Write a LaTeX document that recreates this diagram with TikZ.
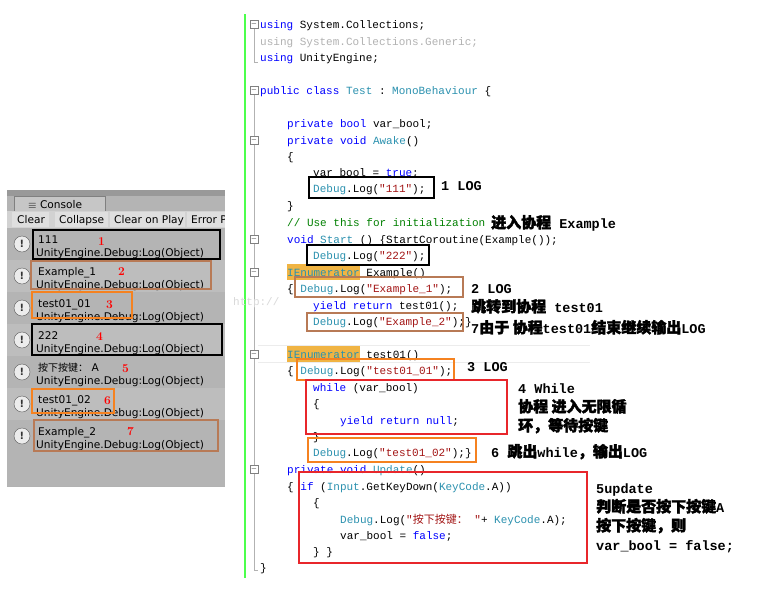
\documentclass[tikz,border=0pt]{standalone}
\usepackage{fontspec}
\setmonofont{Liberation Mono}
\setsansfont{DejaVu Sans}
\newfontfamily\cjk{Noto Sans CJK SC}
\newfontfamily\cjkb[FakeBold=2.5]{Noto Sans CJK SC}
\definecolor{kwblue}{HTML}{0000FF}
\definecolor{tyteal}{HTML}{2B91AF}
\definecolor{strred}{HTML}{A31515}
\definecolor{cmgreen}{HTML}{008000}
\definecolor{boxbrown}{HTML}{B87A56}
\definecolor{boxorange}{HTML}{F58220}
\definecolor{boxred}{HTML}{E8262B}
\definecolor{panel}{HTML}{B4B4B4}
\definecolor{hlorange}{HTML}{F0B443}
\newcommand{\kw}[1]{\textcolor{kwblue}{#1}}
\newcommand{\ty}[1]{\textcolor{tyteal}{#1}}
\newcommand{\st}[1]{\textcolor{strred}{#1}}
\newcommand{\cmt}[1]{\textcolor{cmgreen}{#1}}

\begin{document}
\begin{tikzpicture}[x=1pt,y=-1pt,
    code/.style   ={anchor=base west, inner sep=0, font=\ttfamily\fontsize{11}{11}\selectfont},
    note/.style   ={anchor=base west, inner sep=0, font=\ttfamily\bfseries\fontsize{13.5}{13.5}\selectfont},
    con/.style    ={anchor=base west, inner sep=0, font=\sffamily\fontsize{10.6}{10.6}\selectfont},
    num/.style    ={anchor=base west, inner sep=0, text=red, font=\rmfamily\bfseries\fontsize{12}{12}\selectfont},
    markbox/.style={line width=2.6pt},
    fold/.style   ={draw=gray, fill=white, minimum size=8pt, inner sep=0, font=\fontsize{7}{7}\selectfont}]
  \useasboundingbox (0,0) rectangle (760,592);
  \fill[white] (0,0) rectangle (760,592);

  % console panel
  \fill[panel] (7,190) rectangle (225,487);
  \fill[gray!80] (7,190) rectangle (225,196);
  \fill[gray!45, draw=gray] (14,196) rectangle (105,211);
  \node[con] (tab) at (28,208) {$\equiv$ Console};
  \fill[gray!35] (7,211) rectangle (225,228);
  \foreach \bx/\ex in {12/49, 55/108, 110/185, 187/240}
    \fill[gray!25] (\bx,212) rectangle (\ex,227);
  \node[con] (b1) at (17,223) {Clear};
  \node[con] (b2) at (59,223) {Collapse};
  \node[con] (b3) at (114,223) {Clear on Play};
  \node[con] (b4) at (191,223) {Error P};
  \fill[white] (225,190) rectangle (244,490);
  \draw[gray!60, line width=1pt] (7,486) -- (225,486);
  \foreach \top in {260,324,388}
    \fill[gray!40, opacity=0.4] (7,\top) rectangle (225,\top+32);
  \foreach \top in {228,260,292,324,356,388,420} {
    \draw[gray!70!black, fill=gray!15] (22,\top+16) circle (8);
    \node[font=\sffamily\bfseries\fontsize{10}{10}\selectfont, text=gray!40!black] at (22,\top+16) {!};
    \node[con] at (36,\top+28) {UnityEngine.Debug:Log(Object)};
  }
  \node[con] (c1) at (38,243) {111};
  \node[con] (c2) at (38,275) {Example\_1};
  \node[con] (c3) at (38,307) {test01\_01};
  \node[con] (c4) at (38,339) {222};
  \node[con] (c5) at (38,371) {{\cjk\fontsize{10}{10}\selectfont 按下按键：} A};
  \node[con] (c6) at (38,403) {test01\_02};
  \node[con] (c7) at (38,435) {Example\_2};
  \node[num] (n1) at (98,245) {1};
  \node[num] (n2) at (118,275) {2};
  \node[num] (n3) at (106,308) {3};
  \node[num] (n4) at (96,340) {4};
  \node[num] (n5) at (122,372) {5};
  \node[num] (n6) at (104,404) {6};
  \node[num] (n7) at (127,435) {7};
  \draw[markbox] (33,230) rectangle (220,259);
  \draw[markbox, boxbrown] (31,261) rectangle (211,289);
  \draw[markbox, boxorange] (32,292) rectangle (132,318);
  \draw[markbox] (32,324) rectangle (222,355);
  \draw[markbox, boxorange] (32,389) rectangle (114,413);
  \draw[markbox, boxbrown] (34,420) rectangle (218,451);

  % editor gutter
  \draw[green!70, line width=2pt] (245,14) -- (245,578);
  \draw[gray!60] (254,28) -- (254,62) -- (258,62);
  \draw[gray!60] (254,94) -- (254,570) -- (258,570);
  \fill[hlorange] (287,264) rectangle (360,280);
  \fill[hlorange] (287,345) rectangle (360,362);
  \draw[gray!15] (258,345) -- (590,345);
  \draw[gray!15] (258,362) -- (590,362);
  \foreach \fy in {24,90,140,239,272,354,469}
    \node[fold] at (254,\fy) {$-$};

  % code
  \node[code, text=gray!30] (url) at (233,305) {http://};
  \node[code] (l1)  at (260,28)  {\kw{using} System.Collections;};
  \node[code, text=gray!60] (l2) at (260,45) {using System.Collections.Generic;};
  \node[code] (l3)  at (260,61)  {\kw{using} UnityEngine;};
  \node[code] (l4)  at (260,94)  {\kw{public class} \ty{Test} : \ty{MonoBehaviour} \{};
  \node[code] (l5)  at (287,127) {\kw{private bool} var\_bool;};
  \node[code] (l6)  at (287,144) {\kw{private void} \ty{Awake}()};
  \node[code] (l7)  at (287,160) {\{};
  \node[code] (l8)  at (313,176) {var\_bool = \kw{true};};
  \node[code] (l9)  at (313,192) {\ty{Debug}.Log(\st{"111"});};
  \node[code] (l10) at (287,209) {\}};
  \node[code] (l11) at (287,226) {\cmt{// Use this for initialization}};
  \node[code] (l12) at (287,243) {\kw{void} \ty{Start} () \{StartCoroutine(Example());};
  \node[code] (l13) at (313,259) {\ty{Debug}.Log(\st{"222"});};
  \node[code] (l14) at (287,276) {\ty{IEnumerator} Example()};
  \node[code] (l15) at (287,292) {\{ \ty{Debug}.Log(\st{"Example\_1"});};
  \node[code] (l16) at (313,309) {\kw{yield return} test01();};
  \node[code] (l17) at (313,325) {\ty{Debug}.Log(\st{"Example\_2"});\}};
  \node[code] (l18) at (287,358) {\ty{IEnumerator} test01()};
  \node[code] (l19) at (287,374) {\{ \ty{Debug}.Log(\st{"test01\_01"});};
  \node[code] (l20) at (313,391) {\kw{while} (var\_bool)};
  \node[code] (l21) at (313,407) {\{};
  \node[code] (l22) at (340,424) {\kw{yield return null};};
  \node[code] (l23) at (313,440) {\}};
  \node[code] (l24) at (313,456) {\ty{Debug}.Log(\st{"test01\_02"});\}};
  \node[code] (l25) at (287,473) {\kw{private void} \ty{Update}()};
  \node[code] (l26) at (287,490) {\{ \kw{if} (\ty{Input}.GetKeyDown(\ty{KeyCode}.A))};
  \node[code] (l27) at (313,506) {\{};
  \node[code] (l28) at (340,523) {\ty{Debug}.Log(\st{"{\cjk 按下按键：} "}+ \ty{KeyCode}.A);};
  \node[code] (l29) at (340,539) {var\_bool = \kw{false};};
  \node[code] (l30) at (313,555) {\} \}};
  \node[code] (l31) at (260,571) {\}};

  % marks on code
  \draw[markbox] (309,177) rectangle (434,198);
  \draw[markbox] (307,245) rectangle (429,265);
  \draw[markbox, boxbrown] (295,277) rectangle (463,297);
  \draw[markbox, boxbrown] (307,313) rectangle (463,331);
  \draw[markbox, boxorange] (297,359) rectangle (454,380);
  \draw[markbox, boxred] (306,380) rectangle (507,434);
  \draw[markbox, boxorange] (308,438) rectangle (476,462);
  \draw[markbox, boxred] (299,472) rectangle (587,563);

  % notes
  \node[note] (a1) at (441,190) {1 LOG};
  \node[note] (a2) at (491,228) {{\cjkb\fontsize{15}{15}\selectfont 进入协程} Example};
  \node[note] (a3) at (471,293) {2 LOG};
  \node[note] (a4) at (471,312) {{\cjkb\fontsize{15}{15}\selectfont 跳转到协程} test01};
  \node[note] (a5) at (471,333) {7{\cjkb\fontsize{15}{15}\selectfont 由于 协程}test01{\cjkb\fontsize{15}{15}\selectfont 结束继续输出}LOG};
  \node[note] (a6) at (467,371) {3  LOG};
  \node[note] (a7) at (518,393) {4 While};
  \node[note] (a8) at (518,412) {\cjkb\fontsize{15}{15}\selectfont 协程 进入无限循};
  \node[note] (a9) at (518,431) {\cjkb\fontsize{15}{15}\selectfont 环，等待按键};
  \node[note] (a10) at (491,457) {6 {\cjkb\fontsize{15}{15}\selectfont 跳出}while{\cjkb\fontsize{15}{15}\selectfont ，输出}LOG};
  \node[note] (a11) at (596,493) {5update};
  \node[note] (a12) at (596,512) {{\cjkb\fontsize{15}{15}\selectfont 判断是否按下按键}A};
  \node[note] (a13) at (596,531) {\cjkb\fontsize{15}{15}\selectfont 按下按键，则};
  \node[note] (a14) at (596,550) {var\_bool = false;};
\end{tikzpicture}
\end{document}
